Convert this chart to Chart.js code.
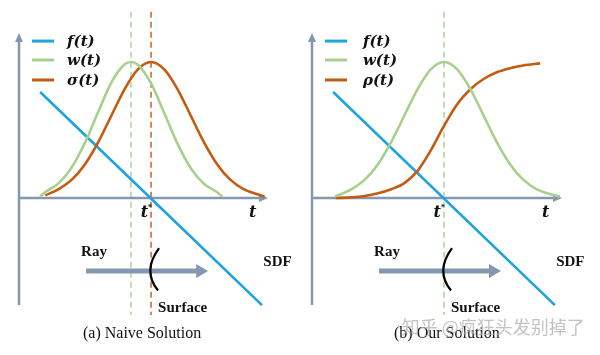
<!DOCTYPE html>
<html><head><meta charset="utf-8">
<script src="https://cdn.jsdelivr.net/npm/chart.js@4/dist/chart.umd.min.js"></script>
<style>
html,body{margin:0;padding:0;background:#fff;}
#wrap{position:relative;width:600px;height:355px;overflow:hidden;}
.pane{position:absolute;top:0;width:300px;height:355px;}
</style></head><body>
<div id="wrap">
<div class="pane" style="left:0"><canvas id="c1" width="300" height="355"></canvas></div>
<div class="pane" style="left:300px"><canvas id="c2" width="300" height="355"></canvas></div>
</div>
<script>
// ---------- data (t along the ray, values normalised so the peak weight = 1) ----------
const tStar = 5.0;                 // surface position t*
const tF = [0.8, 9.2];             // SDF line f(t), both panels
const fVals = [0.78, -0.787];

// (a) naive solution
const tWa = [0.8, 1.0, 1.5, 2.0, 2.5, 3.0, 3.5, 4.0, 4.24, 4.5, 5.0, 5.5, 6.0, 6.5, 7.0, 7.5, 7.7];
const wValsA = [0.01, 0.045, 0.108, 0.226, 0.408, 0.634, 0.850, 0.983, 1.0, 0.980, 0.843, 0.625, 0.400, 0.221, 0.105, 0.043, 0.01];
const tSig = [1.0, 1.5, 2.0, 2.5, 3.0, 3.5, 4.0, 4.5, 5.0, 5.5, 6.0, 6.5, 7.0, 7.5, 8.0, 8.5, 9.0, 9.3];
const sigVals = [0.02, 0.066, 0.135, 0.249, 0.411, 0.607, 0.801, 0.946, 1.0, 0.946, 0.801, 0.607, 0.411, 0.249, 0.135, 0.066, 0.03, 0.01];
const wPeakA = 4.24;               // green dashed line (peak of w) in (a)

// (b) our solution
const tWb = [0.87, 1.5, 2.0, 2.5, 3.0, 3.5, 4.0, 4.5, 5.0, 5.5, 6.0, 6.5, 7.0, 7.5, 8.0, 8.5, 9.0, 9.4];
const wValsB = [0.01, 0.066, 0.135, 0.249, 0.411, 0.607, 0.801, 0.946, 1.0, 0.946, 0.801, 0.607, 0.411, 0.249, 0.135, 0.066, 0.03, 0.01];
const tRho = [0.9, 1.5, 2.0, 2.5, 3.0, 3.5, 4.0, 4.5, 5.0, 5.5, 6.0, 6.5, 7.0, 7.5, 8.0, 8.64];
const rhoVals = [0.0, 0.005, 0.015, 0.035, 0.065, 0.11, 0.2, 0.35, 0.53, 0.69, 0.80, 0.875, 0.925, 0.955, 0.975, 0.99];

const legendA = ['f(t)', 'w(t)', 'σ(t)'];
const legendB = ['f(t)', 'w(t)', 'ρ(t)'];
const captions = ['(a) Naive Solution', '(b) Our Solution'];

// ---------- styles ----------
const C_BLUE = '#1ea4dc', C_GREEN = '#a8d08d', C_ORANGE = '#c55a11', C_AXIS = '#8497b0';
const SERIF = '"Liberation Serif", "Times New Roman", serif';
const MATH = '"DejaVu Serif", serif';

const pts = (xs, ys) => xs.map((x, i) => ({x, y: ys[i]}));
const line = (data, color) => ({data, borderColor: color, backgroundColor: color, borderWidth: 2.6,
  showLine: true, pointRadius: 0, fill: false, cubicInterpolationMode: 'monotone'});

function arrowHead(ctx, x, y, dir, len, half, color) {
  ctx.fillStyle = color; ctx.beginPath();
  if (dir === 'up') { ctx.moveTo(x, y); ctx.lineTo(x - half, y + len); ctx.lineTo(x + half, y + len); }
  else { ctx.moveTo(x, y); ctx.lineTo(x - len, y - half); ctx.lineTo(x - len, y + half); }
  ctx.closePath(); ctx.fill();
}

function makePlugin(opt) {
  return {
    id: 'diagram',
    beforeDatasetsDraw(ch) {
      const ctx = ch.ctx, X = v => ch.scales.x.getPixelForValue(v), Y = v => ch.scales.y.getPixelForValue(v);
      ctx.save();
      ctx.lineWidth = 1.4; ctx.setLineDash([6, 4]);
      opt.dashes.forEach(d => {
        ctx.strokeStyle = d.color; ctx.beginPath();
        ctx.moveTo(X(d.t), Y(1.37)); ctx.lineTo(X(d.t), Y(-0.86)); ctx.stroke();
      });
      ctx.setLineDash([]);
      ctx.strokeStyle = C_AXIS; ctx.lineWidth = 2.5;
      ctx.beginPath(); ctx.moveTo(X(0), Y(-0.787)); ctx.lineTo(X(0), Y(1.16)); ctx.stroke();
      arrowHead(ctx, X(0), Y(1.213), 'up', 9, 4, C_AXIS);
      ctx.beginPath(); ctx.moveTo(X(0), Y(0)); ctx.lineTo(X(opt.axisEnd) - 7, Y(0)); ctx.stroke();
      arrowHead(ctx, X(opt.axisEnd), Y(0), 'right', 9, 4, C_AXIS);
      ctx.restore();
    },
    afterDraw(ch) {
      const ctx = ch.ctx, X = v => ch.scales.x.getPixelForValue(v), Y = v => ch.scales.y.getPixelForValue(v);
      ctx.save();
      const cols = [C_BLUE, C_GREEN, C_ORANGE], ly = [1.154, 1.015, 0.868];
      ctx.textBaseline = 'middle'; ctx.textAlign = 'left';
      opt.legend.forEach((lab, i) => {
        ctx.strokeStyle = cols[i]; ctx.lineWidth = 3;
        ctx.beginPath(); ctx.moveTo(X(0.49), Y(ly[i])); ctx.lineTo(X(1.33), Y(ly[i])); ctx.stroke();
        ctx.fillStyle = '#111'; ctx.font = 'italic bold 15px ' + MATH;
        ctx.fillText(lab, X(opt.legendTextT), Y(ly[i]) + 1);
      });
      ctx.fillStyle = '#111'; ctx.font = 'italic bold 16px ' + MATH;
      ctx.textAlign = 'right';
      ctx.fillText('t', X(tStar) - 3, Y(-0.11));
      ctx.font = 'bold 8px ' + SERIF; ctx.textAlign = 'left';
      ctx.fillText('*', X(tStar) - 3, Y(-0.07));
      ctx.font = 'italic bold 16px ' + MATH; ctx.textAlign = 'center';
      ctx.fillText('t', X(opt.tLabelT), Y(-0.11));
      const ry = Y(-0.537);
      ctx.strokeStyle = C_AXIS; ctx.lineWidth = 5;
      ctx.beginPath(); ctx.moveTo(X(2.54), ry); ctx.lineTo(X(7.16) - 10, ry); ctx.stroke();
      arrowHead(ctx, X(7.16), ry, 'right', 12, 7, C_AXIS);
      const sx = X(tStar);
      ctx.strokeStyle = '#000'; ctx.lineWidth = 2.2;
      ctx.beginPath(); ctx.moveTo(sx + 8, Y(-0.368));
      ctx.quadraticCurveTo(sx - 9, Y(-0.537), sx + 7, Y(-0.68)); ctx.stroke();
      ctx.fillStyle = '#111'; ctx.font = 'bold 15px ' + SERIF; ctx.textAlign = 'left';
      ctx.fillText('Ray', X(opt.rayT), Y(-0.397));
      ctx.fillText('SDF', X(opt.sdfT), Y(-0.47));
      ctx.fillText('Surface', sx + 7, Y(-0.81));
      ctx.font = '16px ' + SERIF; ctx.textAlign = 'center';
      ctx.fillText(opt.caption, X(opt.captionT), Y(-1.0));
      if (opt.watermark) {
        ctx.font = '18px "Noto Sans CJK SC", sans-serif'; ctx.textAlign = 'left';
        ctx.fillStyle = 'rgba(175,175,175,0.75)';
        ctx.fillText(opt.watermark, X(3.40), Y(-0.95));
      }
      ctx.restore();
    }
  };
}

function build(id, datasets, xmin, xmax, opt) {
  new Chart(document.getElementById(id), {
    type: 'scatter',
    data: {datasets},
    options: {
      responsive: false, animation: false, devicePixelRatio: 1,
      layout: {padding: 0},
      plugins: {legend: {display: false}, tooltip: {enabled: false}},
      scales: {
        x: {type: 'linear', display: false, min: xmin, max: xmax},
        y: {type: 'linear', display: false, min: -1.154, max: 1.456}
      }
    },
    plugins: [makePlugin(opt)]
  });
}

build('c1', [
  line(pts(tWa, wValsA), C_GREEN),
  line(pts(tSig, sigVals), C_ORANGE),
  line(pts(tF, fVals), C_BLUE)
], -0.72, 10.64, {
  dashes: [{t: wPeakA, color: C_GREEN}, {t: tStar, color: C_ORANGE}],
  axisEnd: 9.43, legend: legendA, legendTextT: 1.82, tLabelT: 8.85,
  rayT: 2.35, sdfT: 9.25, caption: captions[0], captionT: 4.66
});
build('c2', [
  line(pts(tWb, wValsB), C_GREEN),
  line(pts(tRho, rhoVals), C_ORANGE),
  line(pts(tF, fVals), C_BLUE)
], -0.455, 10.91, {
  dashes: [{t: tStar, color: C_GREEN}],
  axisEnd: 9.47, legend: legendB, legendTextT: 1.93, tLabelT: 8.85,
  rayT: 2.35, sdfT: 9.25, caption: captions[1], captionT: 5.11,
  watermark: '知乎 @疯狂头发别掉了'
});
</script>
</body></html>
